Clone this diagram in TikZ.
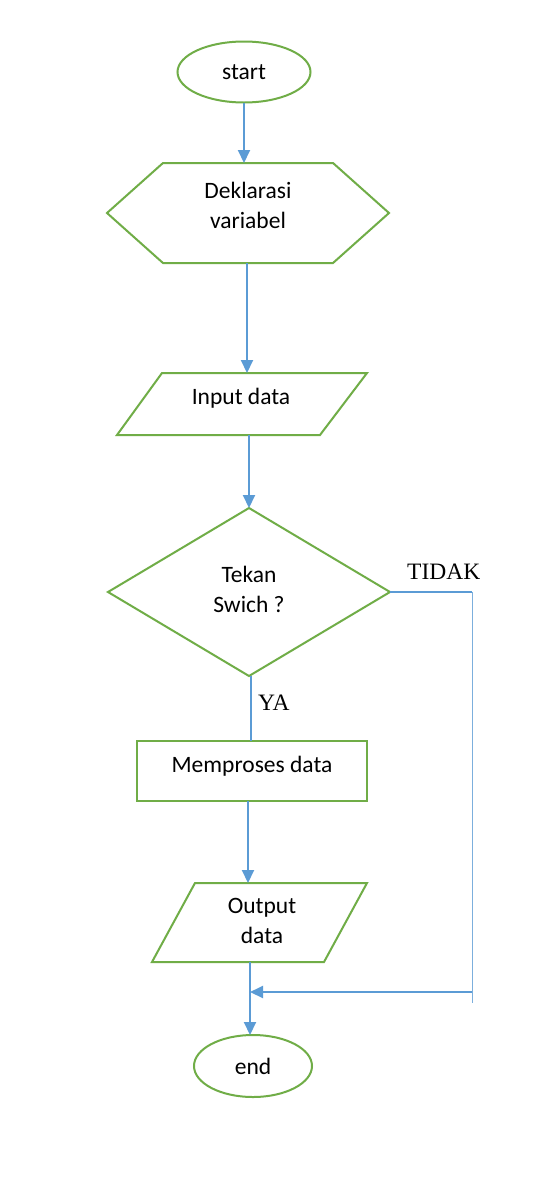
\documentclass[tikz,border=0pt]{standalone}
\usepackage{fontspec}
\setmainfont{Carlito}
\newfontfamily\lblserif{Liberation Serif}
\usetikzlibrary{shapes.geometric,arrows.meta}
\definecolor{sgreen}{HTML}{70AD47}
\definecolor{sblue}{HTML}{5B9BD5}
\tikzset{
  shp/.style={draw=sgreen, line width=2pt},
  box/.style={draw=none, inner sep=0pt, outer sep=0pt},
  lbl/.style={font=\fontsize{23.5}{30}\selectfont, align=center, inner sep=0pt},
  ylbl/.style={font=\lblserif\fontsize{23.5}{27}\selectfont, inner sep=0pt},
  arr/.style={draw=sblue, line width=2pt, -{Triangle[length=13pt,width=12pt]}},
  lin/.style={draw=sblue, line width=2pt},
  thin/.style={draw=sblue!80, line width=1pt},
}
\begin{document}
\begin{tikzpicture}[x=1pt,y=-1pt]
\useasboundingbox[fill=white] (0,0) rectangle (541,1189);

% start
\node[ellipse, shp, lbl, minimum width=133pt, minimum height=61pt, outer sep=0pt] (start) at (244,72) {start};

% declaration hexagon
\node[box, minimum width=282pt, minimum height=100pt] (decl) at (248,213) {};
\draw[shp] (decl.west) -- ([xshift=56pt]decl.north west) -- ([xshift=-56pt]decl.north east)
  -- (decl.east) -- ([xshift=-56pt]decl.south east) -- ([xshift=56pt]decl.south west) -- cycle;
\node[lbl] (decltxt) at (248,205) {Deklarasi\\variabel};

% input parallelogram
\node[box, minimum width=250pt, minimum height=62pt] (in) at (242,404) {};
\draw[shp] ([xshift=45pt]in.north west) -- (in.north east) -- ([xshift=-47pt]in.south east)
  -- (in.south west) -- cycle;
\node[lbl] (intxt) at (241,398) {Input data};

% decision
\node[diamond, shp, minimum width=282pt, minimum height=168pt, inner sep=0pt, outer sep=0pt] (sw) at (249,592) {};
\node[lbl] (swtxt) at (249,589) {Tekan\\Swich ?};

% process
\node[box, shp, minimum width=230pt, minimum height=60pt] (proc) at (252,771) {};
\node[lbl] (proctxt) at (252,766) {Memproses data};

% output parallelogram
\node[box, minimum width=215pt, minimum height=79pt] (out) at (259.5,922.5) {};
\draw[shp] ([xshift=43pt]out.north west) -- (out.north east) -- ([xshift=-43pt]out.south east)
  -- (out.south west) -- cycle;
\node[lbl] (outtxt) at (262,921) {Output\\data};

% end
\node[ellipse, shp, lbl, minimum width=118pt, minimum height=62pt, outer sep=0pt] (end) at (253,1066) {end};

% connectors
\draw[arr] (start.south) -- (start.south |- decl.north);
\draw[arr] ([xshift=-1pt]decl.south) -- ([xshift=-1pt]decl.south |- in.north);
\draw[arr] (sw.north |- in.south) -- (sw.north);
\draw[lin] ([xshift=2pt]sw.south) -- ([xshift=2pt]sw.south |- proc.north);
\draw[arr] ([xshift=-4pt]proc.south) -- ([xshift=-4pt]proc.south |- out.north);
\draw[arr] ([xshift=-3pt]end.north |- out.south) -- ([xshift=-3pt]end.north);

\coordinate (c1) at (472,592);
\coordinate (c2) at (472,1003);
\coordinate (j) at (472,992);
\coordinate (m) at (250,992);
\draw[sblue, line width=1.2pt] (sw.east) -- (c1);
\draw[thin] (c1) -- (c2);
\draw[arr] (j) -- (m);

% labels
\node[ylbl, anchor=base west] (tidak) at (407,579) {TIDAK};
\node[ylbl, anchor=base west] (ya) at (258,710) {YA};
\end{tikzpicture}
\end{document}
